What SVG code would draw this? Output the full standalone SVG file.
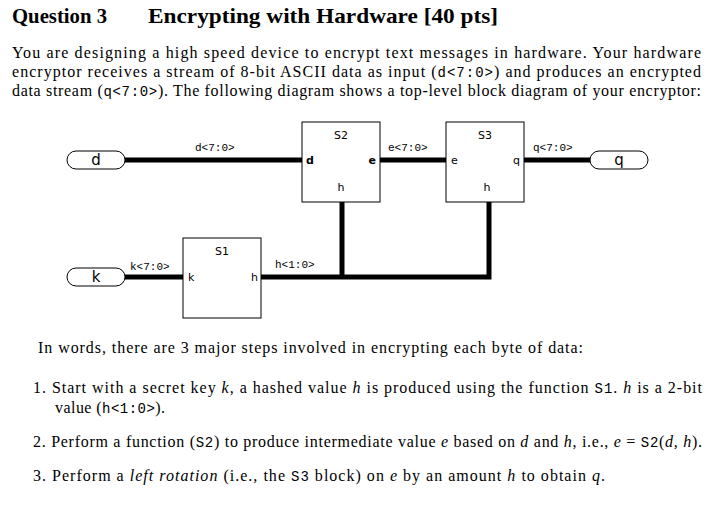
<svg xmlns="http://www.w3.org/2000/svg" width="727" height="527" viewBox="0 0 727 527">
<style>
.t{font-family:"Liberation Serif",serif;font-size:16px;fill:#000}
.h{font-family:"Liberation Serif",serif;font-size:22px;font-weight:bold}
.m{font-family:"Liberation Mono",monospace;font-size:11px}
.s{font-family:"DejaVu Sans",sans-serif;font-size:11px}
.p{font-family:"DejaVu Sans",sans-serif;font-size:15px}
.box{fill:#fff;stroke:#000;stroke-width:1}
.pill{fill:#fff;stroke:#000;stroke-width:1}
.w{stroke:#000;stroke-width:5;fill:none}
</style>
<rect width="727" height="527" fill="#fff"/>
<text class="h" x="12" y="23" textLength="95" lengthAdjust="spacingAndGlyphs">Question 3</text>
<text class="h" x="148" y="23" textLength="350" lengthAdjust="spacingAndGlyphs">Encrypting with Hardware [40 pts]</text>
<text class="t" x="12" y="58" textLength="689" lengthAdjust="spacing">You are designing a high speed device to encrypt text messages in hardware. Your hardware</text>
<text class="t" x="12" y="77" textLength="689" lengthAdjust="spacing">encryptor receives a stream of 8-bit ASCII data as input (<tspan font-family="Liberation Mono" font-size="14">d&lt;7:0&gt;</tspan>) and produces an encrypted</text>
<text class="t" x="12" y="96" textLength="689" lengthAdjust="spacing">data stream (<tspan font-family="Liberation Mono" font-size="14">q&lt;7:0&gt;</tspan>). The following diagram shows a top-level block diagram of your encryptor:</text>
<g id="connectors">
<path class="w" d="M125 160H302"/>
<path class="w" d="M380 160H446"/>
<path class="w" d="M524 160H590"/>
<path class="w" d="M125 277H183"/>
<path class="w" d="M261 277H489V202"/>
<path class="w" d="M342 277V202"/>
<text class="m" x="195" y="151">d&lt;7:0&gt;</text>
<text class="m" x="388" y="151">e&lt;7:0&gt;</text>
<text class="m" x="533" y="151">q&lt;7:0&gt;</text>
<text class="m" x="130" y="270">k&lt;7:0&gt;</text>
<text class="m" x="275" y="268">h&lt;1:0&gt;</text>
</g>
<g id="in_d"><rect class="pill" x="67" y="151" width="58" height="18" rx="9"/><text class="p" x="96" y="165" text-anchor="middle">d</text></g>
<g id="in_k"><rect class="pill" x="67" y="268" width="58" height="18" rx="9"/><text class="p" x="96" y="282" text-anchor="middle">k</text></g>
<g id="out_q"><rect class="pill" x="590" y="151" width="58" height="18" rx="9"/><text class="p" x="619" y="165" text-anchor="middle">q</text></g>
<g id="S2"><rect class="box" x="302" y="122" width="78" height="80"/><text class="s" x="341" y="139" text-anchor="middle">S2</text><text class="s" x="306" y="164" font-weight="bold">d</text><text class="s" x="376" y="164" font-weight="bold" text-anchor="end">e</text><text class="s" x="341" y="191" text-anchor="middle">h</text></g>
<g id="S3"><rect class="box" x="446" y="122" width="78" height="80"/><text class="s" x="485" y="139" text-anchor="middle">S3</text><text class="s" x="451" y="164">e</text><text class="s" x="520" y="164" text-anchor="end">q</text><text class="s" x="487" y="191" text-anchor="middle">h</text></g>
<g id="S1"><rect class="box" x="183" y="238" width="78" height="80"/><text class="s" x="222" y="255" text-anchor="middle">S1</text><text class="s" x="188" y="281">k</text><text class="s" x="258" y="281" text-anchor="end">h</text></g>
<text class="t" x="38" y="353" textLength="545" lengthAdjust="spacing">In words, there are 3 major steps involved in encrypting each byte of data:</text>
<text class="t" x="33" y="393" textLength="669" lengthAdjust="spacing">1.  Start with a secret key <tspan font-style="italic">k</tspan>, a hashed value <tspan font-style="italic">h</tspan> is produced using the function <tspan font-family="Liberation Mono" font-size="14">S1</tspan>. <tspan font-style="italic">h</tspan> is a 2-bit</text>
<text class="t" x="55" y="413" textLength="110" lengthAdjust="spacing">value (<tspan font-family="Liberation Mono" font-size="14">h&lt;1:0&gt;</tspan>).</text>
<text class="t" x="33" y="447" textLength="669" lengthAdjust="spacing">2.  Perform a function (<tspan font-family="Liberation Mono" font-size="14">S2</tspan>) to produce intermediate value <tspan font-style="italic">e</tspan> based on <tspan font-style="italic">d</tspan> and <tspan font-style="italic">h</tspan>, i.e., <tspan font-style="italic">e</tspan> = <tspan font-family="Liberation Mono" font-size="14">S2</tspan>(<tspan font-style="italic">d, h</tspan>).</text>
<text class="t" x="33" y="481" textLength="572" lengthAdjust="spacing">3.  Perform a <tspan font-style="italic">left rotation</tspan> (i.e., the <tspan font-family="Liberation Mono" font-size="14">S3</tspan> block) on <tspan font-style="italic">e</tspan> by an amount <tspan font-style="italic">h</tspan> to obtain <tspan font-style="italic">q</tspan>.</text>
</svg>
